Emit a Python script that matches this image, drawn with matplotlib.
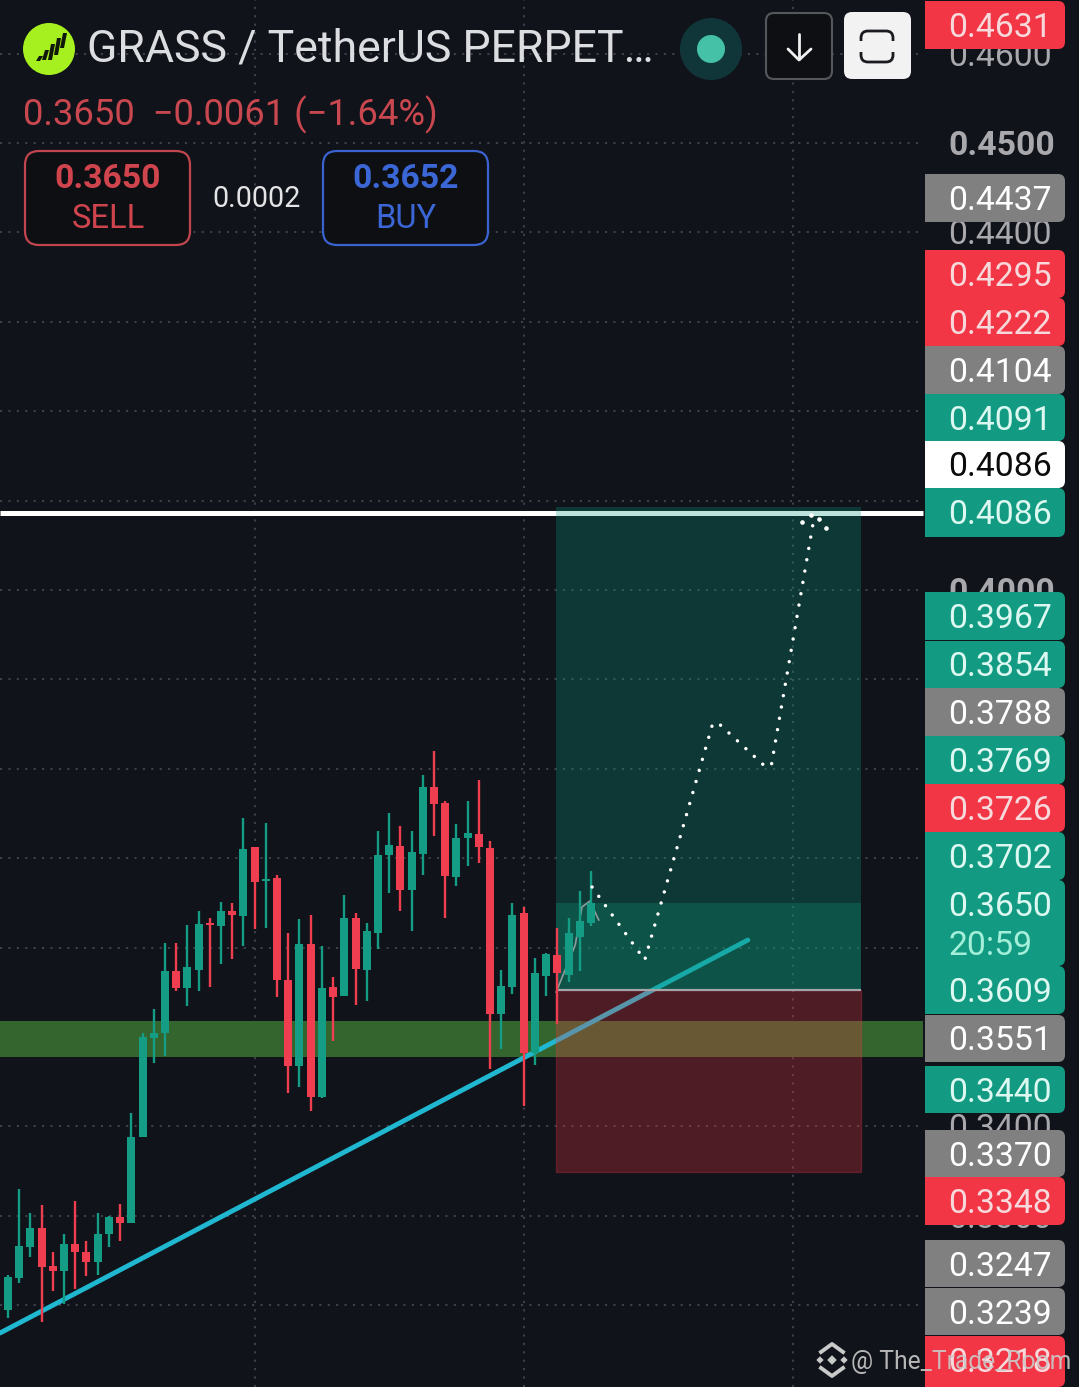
import matplotlib
matplotlib.use("Agg")
import matplotlib.pyplot as plt
import numpy as np
from matplotlib.patches import Circle, FancyBboxPatch, Rectangle, Polygon

plt.rcParams['font.family'] = ['Roboto', 'DejaVu Sans']

# candles, oldest first
opens = [.31946, .32304, .32651, .32864, .32439, .32383, .32685, .32595, .32483, .32796, .32986, .32919, .33882,
         .34989, .35045, .35738, .35548, .35750, .36275, .36242, .36409, .36354, .37125, .36745, .36778, .35638,
         .34676, .36040, .34329, .35559, .35459, .36331, .35750, .36163, .37036, .37137, .36644, .37047, .37797,
         .37617, .36790, .37226, .37271, .37114, .35257, .35559, .36387, .34821, .35683, .35917, .35694, .36119,
         .36275]
highs = [.32338, .33300, .33031, .33121, .32595, .32796, .33166, .32718, .33031, .32997, .33132, .34150, .35045,
         .35313, .36052, .36052, .36253, .36409, .36331, .36510, .36499, .37450, .37125, .37394, .36812, .36163,
         .36320, .36365, .36018, .35671, .36589, .36387, .36275, .37304, .37506, .37360, .37304, .37931, .38199,
         .37640, .37383, .37640, .37875, .37193, .35750, .36499, .36454, .35884, .35940, .36219, .36331, .36633,
         .36857]
lows = [.31857, .32248, .32539, .31812, .32159, .32013, .32181, .32327, .32338, .32651, .32718, .32919, .33882,
        .34709, .34787, .35515, .35347, .35515, .35559, .35817, .35873, .36018, .36207, .36219, .35448, .34374,
        .34441, .34172, .34318, .34955, .35459, .35358, .35403, .35984, .36611, .36409, .36186, .36812, .37248,
        .36331, .36689, .36913, .36946, .34642, .34866, .35481, .34228, .34687, .35459, .35145, .35615, .35738,
        .36242]
closes = [.32315, .32662, .32864, .32427, .32383, .32685, .32595, .32483, .32796, .32986, .32919, .33882, .35000,
          .35045, .35738, .35548, .35783, .36264, .36253, .36409, .36365, .37103, .36734, .36767, .35638, .34676,
          .36040, .34329, .35548, .35448, .36331, .35761, .36186, .37036, .37148, .36644, .37069, .37797, .37606,
          .36801, .37226, .37282, .37125, .35257, .35570, .36365, .34821, .35716, .35928, .35716, .36163, .36298,
          .36499]

price_ticks = [.46, .45, .44, .43, .42, .41, .40, .39, .38, .37, .36, .35, .34, .33, .32]
bold_ticks = [.45, .40]
grid_bars = [22, 46, 70]

target_price = 0.40929
entry_price = 0.35526
stop_price = 0.33490
last_price = 0.36499
level_price = 0.40861
zone_prices = [0.34776, 0.35179]
box_bars = [48.9, 76.1]
trend_bars = [-0.71, 66.0]
trend_prices = [0.31689, 0.36085]

path_bars = [52.1, 56.8, 62.8, 63.25, 67.6, 68.1, 71.9]
path_prices = [0.36678, 0.35861, 0.38479, 0.38524, 0.38020, 0.38043, 0.40806]
cap_bars = [70.8, 71.6, 72.35, 73.0]
cap_prices = [0.40761, 0.40839, 0.40794, 0.40694]
drawn_bars = [48.9, 50.6, 51.2, 51.9, 52.7]
drawn_prices = [0.35503, 0.36029, 0.36454, 0.36521, 0.36309]

pill_labels = ['0.4631', '0.4437', '0.4295', '0.4222', '0.4104', '0.4091', '0.4086', '0.4086', '0.3967', '0.3854',
               '0.3788', '0.3769', '0.3726', '0.3702', '0.3650', '0.3609', '0.3551', '0.3440', '0.3370', '0.3348',
               '0.3247', '0.3239', '0.3218']
pill_kinds = ['r', 'g', 'r', 'r', 'g', 't', 'w', 't', 't', 't', 'g', 't', 'r', 't', 't', 't', 'g', 't', 'g', 'r',
              'g', 'g', 'r']
pill_tops = [1, 174, 250, 298, 346, 394, 441, 488, 592, 641, 688, 736, 784, 832, 880, 966, 1015, 1066, 1130, 1177,
             1240, 1288, 1336]
pill_bottoms = [49, 222, 298, 346, 394, 441, 488, 537, 640, 688, 736, 784, 832, 880, 966, 1014, 1062, 1113, 1177,
                1225, 1287, 1335, 1387]

BG = '#10131a'
UP = '#149c84'
DOWN = '#ee3e50'
BAR_PX = 11.21
PX_PRICE = 0.00011186
PLOT_RIGHT = (923 - 8) / BAR_PX

fig = plt.figure(figsize=(10.79, 13.87), dpi=100, facecolor=BG)
ax = fig.add_axes([0, 0, 1, 1], facecolor=BG)
ax.set_xlim(-8 / BAR_PX, 1071 / BAR_PX)
ax.set_ylim(0.31085, 0.46600)
ax.axis('off')

# grid
grid_style = dict(color='#4c4f56', lw=1.1, linestyles=[(0, (1.4, 4.1))], zorder=1)
ax.hlines(price_ticks, ax.get_xlim()[0], PLOT_RIGHT, **grid_style)
ax.vlines(grid_bars, *ax.get_ylim(), **grid_style)

# support zone, trend line, level: these sit under the position box
ax.add_patch(Rectangle((ax.get_xlim()[0], zone_prices[0]), PLOT_RIGHT - ax.get_xlim()[0],
                       zone_prices[1] - zone_prices[0], color='#35652f', lw=0, zorder=1.5))
ax.plot(trend_bars, trend_prices, color='#20b8d0', lw=3.5, solid_capstyle='round', zorder=2)
ax.hlines(level_price, ax.get_xlim()[0], PLOT_RIGHT, color='white', lw=3.6, zorder=2)

# long position box
box_w = box_bars[1] - box_bars[0]
ax.add_patch(Rectangle((box_bars[0], entry_price), box_w, target_price - entry_price, color='#0c9a7c',
                       alpha=0.28, lw=0, zorder=3))
ax.add_patch(Rectangle((box_bars[0], entry_price), box_w, last_price - entry_price, color='#0c9a7c',
                       alpha=0.28, lw=0, zorder=3))
ax.add_patch(Rectangle((box_bars[0], stop_price), box_w, entry_price - stop_price, facecolor='#f23645',
                       edgecolor='#f23645', alpha=0.27, lw=1, zorder=3))
ax.hlines(entry_price, box_bars[0], box_bars[1], color='#a3a5a8', lw=1.6, zorder=3.2)

ax.plot(drawn_bars, drawn_prices, color='#8d9d9c', lw=1.2, zorder=3.5)

# candles
o = np.array(opens)
c = np.array(closes)
bars = np.arange(len(opens))
colors = [UP if b >= a else DOWN for a, b in zip(opens, closes)]
ax.vlines(bars, lows, highs, colors=colors, lw=1.7, zorder=4)
ax.bar(bars, np.abs(c - o), bottom=np.minimum(o, c), width=8 / BAR_PX, color=colors, lw=0, zorder=4.1)

# forecast path
ax.plot(path_bars, path_prices, color='white', lw=2.5, linestyle=(0, (0.01, 3.3)), dash_capstyle='round', zorder=5)
ax.scatter(cap_bars, cap_prices, s=11, color='white', lw=0, zorder=5)

# price scale labels, the pills cover most of them
for p in price_ticks:
    ax.text((948 - 8) / BAR_PX, p - 3 * PX_PRICE, f'{p:.4f}', color='#a9a9ad', fontsize=24.3, va='center', ha='left',
            fontweight='bold' if p in bold_ticks else 'normal', zorder=6)

# everything else is screen furniture, drawn in pixels
ui = fig.add_axes([0, 0, 1, 1], facecolor='none')
ui.set_xlim(0, 1079)
ui.set_ylim(1387, 0)
ui.axis('off')

pill_fill = {'r': '#f23645', 'g': '#808080', 't': '#129b82', 'w': '#ffffff'}
pill_text = {'r': '#f7d9dc', 'g': '#ffffff', 't': '#dcf8f1', 'w': '#0b0b0b'}
for label, kind, top, bottom in zip(pill_labels, pill_kinds, pill_tops, pill_bottoms):
    ui.add_patch(FancyBboxPatch((925 + 7, top + 7), 133 - 7, bottom - top - 14,
                                boxstyle='round,pad=7', fc=pill_fill[kind], ec='none', zorder=2))
    ui.add_patch(Rectangle((925, top), 20, bottom - top, fc=pill_fill[kind], ec='none', zorder=2))
    y = 904 if label == '0.3650' else (top + bottom) / 2 - (2 if label == '0.3218' else 0)
    ui.text(948, y + 3, label, color=pill_text[kind], fontsize=24.3, va='center', ha='left', zorder=3)
ui.text(948, 946, '20:59', color='#a3efd9', fontsize=24.3, va='center', ha='left', zorder=3)

# header
ui.add_patch(Circle((49, 49), 26, fc='#a6f01f', ec='none'))
for x0, y0, h in [(36, 61, 5), (42, 60, 10), (48, 60, 16), (54, 55, 17), (60, 48, 15)]:
    ui.add_patch(Polygon([(x0, y0), (x0 + 4, y0), (x0 + 7, y0 - h), (x0 + 3, y0 - h)], fc='#10180a', ec='none'))
ui.text(87, 62, 'GRASS / TetherUS PERPET…', color='#dcdde0', fontsize=32.1, va='baseline', ha='left')
ui.text(23, 125, '0.3650  −0.0061 (−1.64%)', color='#c9474f', fontsize=26.2, va='baseline', ha='left')

ui.add_patch(Circle((711, 49), 31, fc='#10363a', ec='none'))
ui.add_patch(Circle((711, 49), 14, fc='#45c1a7', ec='none'))

ui.add_patch(FancyBboxPatch((774, 21), 50, 50, boxstyle='round,pad=8', fc='#0e0f12', ec='#55575c', lw=1.5))
ui.plot([799, 799], [34, 59], color='#f0f0f0', lw=2, solid_capstyle='round')
ui.plot([788, 799, 811], [49, 60, 49], color='#f0f0f0', lw=2, solid_capstyle='round', solid_joinstyle='round')

ui.add_patch(FancyBboxPatch((852, 20), 51, 51, boxstyle='round,pad=8', fc='#f2f2f3', ec='none'))
ui.add_patch(FancyBboxPatch((868, 38), 18, 17, boxstyle='round,pad=7', fc='none', ec='#1a1b1f', lw=2))
ui.add_patch(Rectangle((856, 41), 42, 11, fc='#f2f2f3', ec='none', zorder=2.5))

for x0, edge, price, side in [(25, '#c0454f', '0.3650', 'SELL'), (323, '#3a62d0', '0.3652', 'BUY')]:
    ui.add_patch(FancyBboxPatch((x0 + 14, 165), 137, 66, boxstyle='round,pad=14', fc='#0e0f12', ec=edge, lw=1.6))
    txt = '#d0444e' if side == 'SELL' else '#3b66d6'
    ui.text(x0 + 83, 188, price, color=txt, fontsize=24.3, fontweight='bold', va='baseline', ha='center')
    ui.text(x0 + 83, 228, side, color=txt, fontsize=23.5, va='baseline', ha='center')
ui.text(257, 207, '0.0002', color='#e4e4e6', fontsize=20.7, va='baseline', ha='center')

# watermark
mark = '#c9c9c9'
ui.plot([821, 832, 843], [1352, 1344, 1352], color=mark, lw=2.8, zorder=8)
ui.plot([821, 832, 843], [1368, 1376, 1368], color=mark, lw=2.8, zorder=8)
ui.scatter([820, 832, 844], [1360, 1360, 1360], marker='D', s=[14, 24, 14], color=mark, lw=0, zorder=8)
ui.text(851, 1369, '@ The_Trade_Room', color=mark, alpha=0.9, fontsize=17.7, va='baseline', ha='left', zorder=8)

fig.savefig('out.png', dpi=100, facecolor=BG)
